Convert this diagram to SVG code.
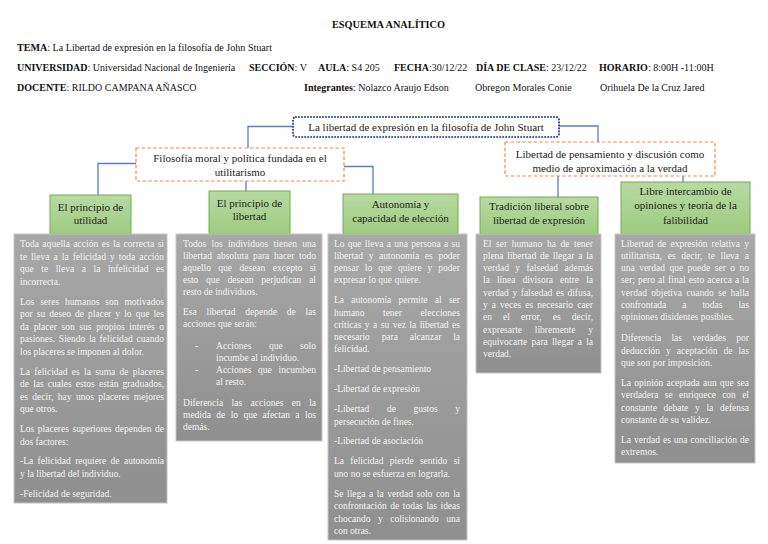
<svg xmlns="http://www.w3.org/2000/svg" width="768" height="544" viewBox="0 0 768 544">
<style>
.h{font-family:"Liberation Serif","Times New Roman",serif;font-size:10.1px;fill:#111}
.b{font-weight:bold}
.nt{font-family:"Liberation Serif","Times New Roman",serif;font-size:11px;fill:#222;text-anchor:middle}
.t{font-family:"Liberation Serif","Times New Roman",serif;font-size:9.5px;fill:#f3f3f3}
.gray{fill:url(#gg);stroke:#c4c4c4;stroke-width:1}
.green{fill:url(#gr);stroke:#74ab4c;stroke-width:1}
.orange{fill:#fff;stroke:#ee8a4a;stroke-width:1.2;stroke-dasharray:3.5 2.2}
.root{fill:#fff;stroke:#2f4f96;stroke-width:2.2;stroke-dasharray:0 3;stroke-linecap:round}
.conn{fill:none;stroke:#5b7fb8;stroke-width:1.3}
</style>
<defs>
<linearGradient id="gg" x1="0" y1="0" x2="0" y2="1"><stop offset="0" stop-color="#a8a8a8"/><stop offset="1" stop-color="#8f8f8f"/></linearGradient>
<linearGradient id="gr" x1="0" y1="0" x2="0" y2="1"><stop offset="0" stop-color="#b8daa2"/><stop offset="1" stop-color="#9ecb80"/></linearGradient>
</defs>
<rect width="768" height="544" fill="#fff"/>

<g id="header">
<text class="h b" x="332" y="28" textLength="113" lengthAdjust="spacingAndGlyphs">ESQUEMA ANALÍTICO</text>
<text class="h" x="17" y="50.5" textLength="255" lengthAdjust="spacingAndGlyphs"><tspan class="b">TEMA</tspan>: La Libertad de expresión en la filosofía de John Stuart</text>
<text class="h" y="70.5" style="font-size:10px"><tspan x="17" class="b">UNIVERSIDAD</tspan><tspan>: Universidad Nacional de Ingeniería</tspan><tspan x="249" class="b">SECCIÓN</tspan><tspan>: V</tspan><tspan x="318" class="b">AULA</tspan><tspan>: S4 205</tspan><tspan x="394" class="b">FECHA</tspan><tspan>:30/12/22</tspan><tspan x="476" class="b">DÍA DE CLASE</tspan><tspan>: 23/12/22</tspan><tspan x="599" class="b">HORARIO</tspan><tspan>: 8:00H -11:00H</tspan></text>
<text class="h" y="91" style="font-size:10px"><tspan x="17" class="b">DOCENTE</tspan><tspan>: RILDO CAMPANA AÑASCO</tspan><tspan x="304" class="b">Integrantes</tspan><tspan>: Nolazco Araujo Edson</tspan><tspan x="475">Obregon Morales Conie</tspan><tspan x="600">Orihuela De la Cruz Jared</tspan></text>
</g>

<g id="connectors">
<path class="conn" d="M293,126.5 H248 V148"/>
<path class="conn" d="M559,126 H598 V142"/>
<path class="conn" d="M136,163.5 H98 V195"/>
<path class="conn" d="M246,181 V191"/>
<path class="conn" d="M344,166.5 H373 V194"/>
<path class="conn" d="M558,176 V197"/>
<path class="conn" d="M683,176 V182"/>
</g>

<g id="root">
<rect class="root" x="293" y="117" width="266" height="20" rx="3"/>
<text class="nt" x="426" y="131">La libertad de expresión en la filosofía de John Stuart</text>
</g>

<g id="filosofia">
<rect class="orange" x="136" y="148" width="208" height="33"/>
<text class="nt" x="240" y="162">Filosofía moral y política fundada en el</text>
<text class="nt" x="240" y="175.5">utilitarismo</text>
</g>

<g id="libertad-pensamiento">
<rect class="orange" x="505" y="142" width="210" height="34"/>
<text class="nt" x="610" y="158">Libertad de pensamiento y discusión como</text>
<text class="nt" x="610" y="171.5">medio de aproximación a la verdad</text>
</g>

<g id="utilidad">
<rect class="green" x="50" y="195" width="81" height="39"/>
<text class="nt" x="90.5" y="210.5">El principio de</text>
<text class="nt" x="90.5" y="223.5">utilidad</text>
<rect class="gray" x="14" y="234" width="153" height="269"/>
<text class="t" x="20" y="247" textLength="144" lengthAdjust="spacing" word-spacing="1">Toda aquella acción es la correcta si</text>
<text class="t" x="20" y="259.5" textLength="144" lengthAdjust="spacing" word-spacing="1.7">te lleva a la felicidad y toda acción</text>
<text class="t" x="20" y="272" textLength="144" lengthAdjust="spacing" word-spacing="5.2">que te lleva a la infelicidad es</text>
<text class="t" x="20" y="284.5">incorrecta.</text>
<text class="t" x="20" y="304.5" textLength="144" lengthAdjust="spacing" word-spacing="3.5">Los seres humanos son motivados</text>
<text class="t" x="20" y="317" textLength="144" lengthAdjust="spacing" word-spacing="1.7">por su deseo de placer y lo que les</text>
<text class="t" x="20" y="329.5" textLength="144" lengthAdjust="spacing" word-spacing="2.3">da placer son sus propios interés o</text>
<text class="t" x="20" y="342" textLength="144" lengthAdjust="spacing" word-spacing="1.4">pasiones. Siendo la felicidad cuando</text>
<text class="t" x="20" y="354.5">los placeres se imponen al dolor.</text>
<text class="t" x="20" y="374.5" textLength="144" lengthAdjust="spacing" word-spacing="1.9">La felicidad es la suma de placeres</text>
<text class="t" x="20" y="387" textLength="144" lengthAdjust="spacing" word-spacing="1.8">de las cuales estos están graduados,</text>
<text class="t" x="20" y="399.5" textLength="144" lengthAdjust="spacing" word-spacing="2">es decir, hay unos placeres mejores</text>
<text class="t" x="20" y="412">que otros.</text>
<text class="t" x="20" y="432" textLength="144" lengthAdjust="spacing" word-spacing="1.2">Los placeres superiores dependen de</text>
<text class="t" x="20" y="444.5">dos factores:</text>
<text class="t" x="20" y="464" textLength="144" lengthAdjust="spacing" word-spacing="2">-La felicidad requiere de autonomía</text>
<text class="t" x="20" y="476.5">y la libertad del individuo.</text>
<text class="t" x="20" y="496.5">-Felicidad de seguridad.</text>
</g>

<g id="libertad">
<rect class="green" x="209" y="191" width="81" height="43"/>
<text class="nt" x="249.5" y="206.5">El principio de</text>
<text class="nt" x="249.5" y="220">libertad</text>
<rect class="gray" x="176" y="234" width="146" height="207"/>
<text class="t" x="183" y="246.5" textLength="133" lengthAdjust="spacing" word-spacing="2.9">Todos los individuos tienen una</text>
<text class="t" x="183" y="258.5" textLength="133" lengthAdjust="spacing" word-spacing="2.2">libertad absoluta para hacer todo</text>
<text class="t" x="183" y="270.5" textLength="133" lengthAdjust="spacing" word-spacing="5">aquello que desean excepto si</text>
<text class="t" x="183" y="282.5" textLength="133" lengthAdjust="spacing" word-spacing="5.4">esto que desean perjudican al</text>
<text class="t" x="183" y="294.5">resto de individuos.</text>
<text class="t" x="183" y="314.5" textLength="133" lengthAdjust="spacing" word-spacing="7.4">Esa libertad depende de las</text>
<text class="t" x="183" y="326.5">acciones que serán:</text>
<text class="t" x="195" y="348.5">-</text>
<text class="t" x="216" y="348.5" textLength="100" lengthAdjust="spacing" word-spacing="15">Acciones que solo</text>
<text class="t" x="216" y="360.5">incumbe al individuo.</text>
<text class="t" x="195" y="372.5">-</text>
<text class="t" x="216" y="372.5" textLength="100" lengthAdjust="spacing" word-spacing="4.3">Acciones que incumben</text>
<text class="t" x="216" y="384.5">al resto.</text>
<text class="t" x="183" y="405.5" textLength="133" lengthAdjust="spacing" word-spacing="6">Diferencia las acciones en la</text>
<text class="t" x="183" y="417.5" textLength="133" lengthAdjust="spacing" word-spacing="3">medida de lo que afectan a los</text>
<text class="t" x="183" y="429.5">demás.</text>
</g>

<g id="autonomia">
<rect class="green" x="343" y="194" width="115" height="40"/>
<text class="nt" x="400.5" y="208">Autonomía y</text>
<text class="nt" x="400.5" y="222">capacidad de elección</text>
<rect class="gray" x="328" y="234" width="139" height="306"/>
<text class="t" x="334" y="246.5" textLength="126" lengthAdjust="spacing" word-spacing="0.9">Lo que lleva a una persona a su</text>
<text class="t" x="334" y="258.5" textLength="126" lengthAdjust="spacing" word-spacing="3.3">libertad y autonomía es poder</text>
<text class="t" x="334" y="270.5" textLength="126" lengthAdjust="spacing" word-spacing="3.6">pensar lo que quiere y poder</text>
<text class="t" x="334" y="283">expresar lo que quiere.</text>
<text class="t" x="334" y="303" textLength="126" lengthAdjust="spacing" word-spacing="4.9">La autonomía permite al ser</text>
<text class="t" x="334" y="315.5" textLength="126" lengthAdjust="spacing" word-spacing="16">humano tener elecciones</text>
<text class="t" x="334" y="327.5" textLength="126" lengthAdjust="spacing" word-spacing="1.1">críticas y a su vez la libertad es</text>
<text class="t" x="334" y="340" textLength="126" lengthAdjust="spacing" word-spacing="9.4">necesario para alcanzar la</text>
<text class="t" x="334" y="352">felicidad.</text>
<text class="t" x="334" y="371.5">-Libertad de pensamiento</text>
<text class="t" x="334" y="391.5">-Libertad de expresión</text>
<text class="t" x="334" y="412" textLength="126" lengthAdjust="spacing" word-spacing="15.2">-Libertad de gustos y</text>
<text class="t" x="334" y="424.5">persecución de fines.</text>
<text class="t" x="334" y="444">-Libertad de asociación</text>
<text class="t" x="334" y="464" textLength="126" lengthAdjust="spacing" word-spacing="3.9">La felicidad pierde sentido si</text>
<text class="t" x="334" y="476.5">uno no se esfuerza en lograrla.</text>
<text class="t" x="334" y="496.5" textLength="126" lengthAdjust="spacing" word-spacing="1.2">Se llega a la verdad solo con la</text>
<text class="t" x="334" y="509" textLength="126" lengthAdjust="spacing" word-spacing="1.2">confrontación de todas las ideas</text>
<text class="t" x="334" y="521.5" textLength="126" lengthAdjust="spacing" word-spacing="5.1">chocando y colisionando una</text>
<text class="t" x="334" y="534">con otras.</text>
</g>

<g id="tradicion">
<rect class="green" x="480" y="197" width="118" height="37"/>
<text class="nt" x="539" y="210">Tradición liberal sobre</text>
<text class="nt" x="539" y="223.5">libertad de expresión</text>
<rect class="gray" x="476" y="234" width="125" height="139"/>
<text class="t" x="483" y="246.5" textLength="110" lengthAdjust="spacing" word-spacing="2.2">El ser humano ha de tener</text>
<text class="t" x="483" y="258.8" textLength="110" lengthAdjust="spacing" word-spacing="1.4">plena libertad de llegar a la</text>
<text class="t" x="483" y="271.1" textLength="110" lengthAdjust="spacing" word-spacing="4">verdad y falsedad además</text>
<text class="t" x="483" y="283.4" textLength="110" lengthAdjust="spacing" word-spacing="4.7">la línea divisora entre la</text>
<text class="t" x="483" y="295.7" textLength="110" lengthAdjust="spacing" word-spacing="1.2">verdad y falsedad es difusa,</text>
<text class="t" x="483" y="308" textLength="110" lengthAdjust="spacing" word-spacing="1.7">y a veces es necesario caer</text>
<text class="t" x="483" y="320.3" textLength="110" lengthAdjust="spacing" word-spacing="8.6">en el error, es decir,</text>
<text class="t" x="483" y="332.6" textLength="110" lengthAdjust="spacing" word-spacing="10.4">expresarte libremente y</text>
<text class="t" x="483" y="344.9" textLength="110" lengthAdjust="spacing" word-spacing="1.8">equivocarte para llegar a la</text>
<text class="t" x="483" y="357.2">verdad.</text>
</g>

<g id="libre-intercambio">
<rect class="green" x="621" y="182" width="129" height="52"/>
<text class="nt" x="685.5" y="194.5">Libre intercambio de</text>
<text class="nt" x="685.5" y="209">opiniones y teoría de la</text>
<text class="nt" x="685.5" y="223.5">falibilidad</text>
<rect class="gray" x="615" y="234" width="140" height="229"/>
<text class="t" x="621" y="246.5" textLength="128" lengthAdjust="spacing" word-spacing="1.8">Libertad de expresión relativa y</text>
<text class="t" x="621" y="258.8" textLength="128" lengthAdjust="spacing" word-spacing="3.3">utilitarista, es decir, te lleva a</text>
<text class="t" x="621" y="271.1" textLength="128" lengthAdjust="spacing" word-spacing="2.1">una verdad que puede ser o no</text>
<text class="t" x="621" y="283.4" textLength="128" lengthAdjust="spacing" word-spacing="0.4">ser; pero al final esto acerca a la</text>
<text class="t" x="621" y="295.7" textLength="128" lengthAdjust="spacing" word-spacing="2">verdad objetiva cuando se halla</text>
<text class="t" x="621" y="308" textLength="128" lengthAdjust="spacing" word-spacing="13.6">confrontada a todas las</text>
<text class="t" x="621" y="320.3">opiniones disidentes posibles.</text>
<text class="t" x="621" y="341.3" textLength="128" lengthAdjust="spacing" word-spacing="7.9">Diferencia las verdades por</text>
<text class="t" x="621" y="353.6" textLength="128" lengthAdjust="spacing" word-spacing="3.6">deducción y aceptación de las</text>
<text class="t" x="621" y="365.9">que son por imposición.</text>
<text class="t" x="621" y="386" textLength="128" lengthAdjust="spacing" word-spacing="0.9">La opinión aceptada aun que sea</text>
<text class="t" x="621" y="398.3" textLength="128" lengthAdjust="spacing" word-spacing="3.9">verdadera se enriquece con el</text>
<text class="t" x="621" y="410.6" textLength="128" lengthAdjust="spacing" word-spacing="4.3">constante debate y la defensa</text>
<text class="t" x="621" y="422.9">constante de su validez.</text>
<text class="t" x="621" y="442.6" textLength="128" lengthAdjust="spacing" word-spacing="0.6">La verdad es una conciliación de</text>
<text class="t" x="621" y="454.9">extremos.</text>
</g>
</svg>
